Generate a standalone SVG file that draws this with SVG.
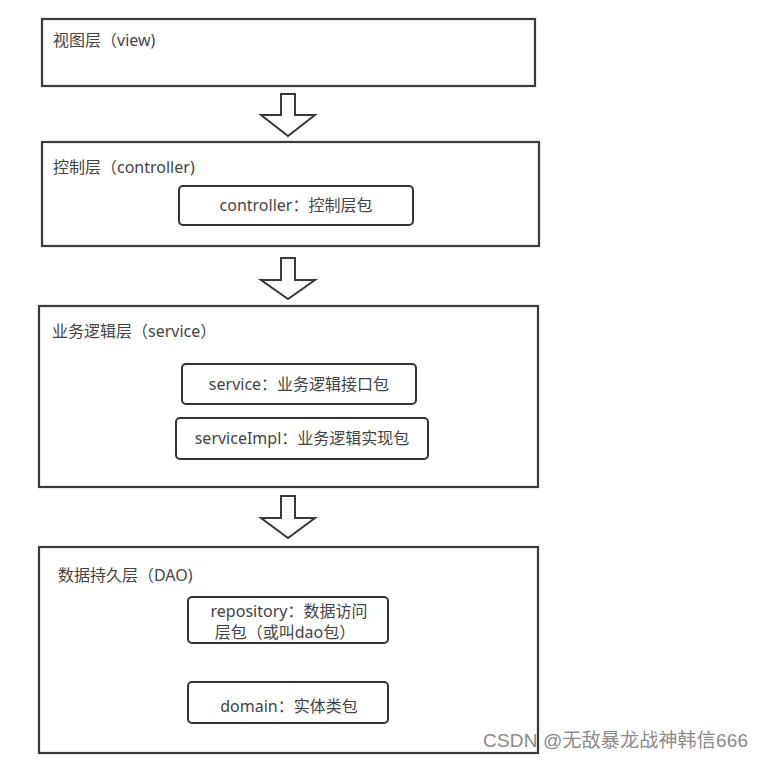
<svg xmlns="http://www.w3.org/2000/svg" width="765" height="760" viewBox="0 0 765 760">
<style>
.layer{fill:#fff;stroke:#3a3a3a;stroke-width:2.2}
.pkg{fill:#fff;stroke:#333;stroke-width:2}
.arrow{fill:#fff;stroke:#3a3a3a;stroke-width:2;stroke-linejoin:miter}
text{font-family:"Noto Sans","Noto Sans CJK SC",sans-serif;font-size:16px;fill:#444}
.c{text-anchor:middle}
.wm{font-family:"Liberation Sans","Noto Sans CJK SC",sans-serif;font-size:19px;fill:#8a8a8a}
</style>
<rect width="765" height="760" fill="#fff"/>
<g id="view">
<rect class="layer" x="42" y="19" width="493" height="67"/>
<text x="53" y="46">视图层（view)</text>
</g>
<g id="controller">
<rect class="layer" x="42" y="142" width="497" height="104"/>
<text x="53" y="173">控制层（controller)</text>
<g id="controller-pkg">
<rect class="pkg" x="179" y="186" width="234" height="39" rx="4"/>
<text class="c" x="296" y="211">controller：控制层包</text>
</g>
</g>
<g id="service">
<rect class="layer" x="39" y="306" width="499" height="181"/>
<text x="52" y="337">业务逻辑层（service）</text>
<g id="service-pkg">
<rect class="pkg" x="182" y="364" width="234" height="40" rx="4"/>
<text class="c" x="299" y="390">service：业务逻辑接口包</text>
</g>
<g id="serviceimpl-pkg">
<rect class="pkg" x="176" y="418" width="252" height="41" rx="4"/>
<text class="c" x="302" y="444">serviceImpl：业务逻辑实现包</text>
</g>
</g>
<g id="dao">
<rect class="layer" x="39" y="547" width="499" height="206"/>
<text x="58" y="581">数据持久层（DAO)</text>
<g id="repository-pkg">
<rect class="pkg" x="188" y="597" width="200" height="46" rx="4"/>
<text class="c" x="289" y="617">repository：数据访问</text>
<text class="c" x="285" y="638">层包（或叫dao包）</text>
</g>
<g id="domain-pkg">
<rect class="pkg" x="188" y="682" width="200" height="41" rx="4"/>
<text class="c" x="289" y="712">domain：实体类包</text>
</g>
</g>
<g id="connectors">
<path class="arrow" d="M281 94 H295 V115 H315 L288 136 L261 115 H281 Z"/>
<path class="arrow" d="M281 258 H295 V280 H315 L288 299 L261 280 H281 Z"/>
<path class="arrow" d="M281 496 H295 V518 H315 L288 538 L261 518 H281 Z"/>
</g>
<text class="wm" x="483" y="747" textLength="265" lengthAdjust="spacing">CSDN @无敌暴龙战神韩信666</text>
</svg>
